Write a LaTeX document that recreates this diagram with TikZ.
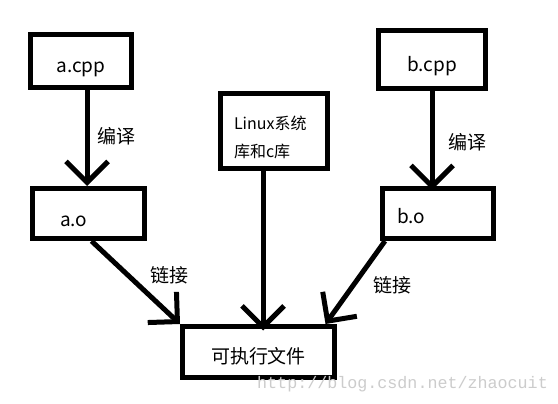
\documentclass[tikz,border=0pt]{standalone}
\usepackage{fontspec}
\setmainfont{Noto Sans CJK SC}
\newfontfamily\wmfont{Liberation Mono}
\usetikzlibrary{arrows.meta}
\begin{document}
\begin{tikzpicture}[x=1pt,y=-1pt,
  box/.style={draw=black, line width=5pt, inner sep=0pt, text depth=0pt, font=\fontsize{19}{22}\selectfont},
  conn/.style={line width=5pt, -{Straight Barb[length=21pt,width=42pt]}},
  lbl/.style={inner sep=0pt, font=\fontsize{19}{22}\selectfont},
  wm/.style={inner sep=0pt, anchor=west, text=black!20, font=\wmfont\fontsize{16.7}{18}\selectfont}]
\useasboundingbox[fill=white] (0,0) rectangle (558,404);
\node[box, minimum width=101pt, minimum height=53pt, text height=24pt] (acpp) at (81,61) {a.cpp};
\node[box, minimum width=112pt, minimum height=50pt, text height=25pt, text width=57pt, align=left, inner xsep=27.5pt] (ao) at (88.5,213.5) {a.o};
\node[box, minimum width=107pt, minimum height=75pt, text width=80pt, align=left, inner xsep=13.5pt, font=\fontsize{16}{28}\selectfont, text height=12pt, text depth=14pt] (lib) at (274,131) {Linux系统\\库和c库};
\node[box, minimum width=107pt, minimum height=58pt, text height=24pt] (bcpp) at (432,59.5) {b.cpp};
\node[box, minimum width=111pt, minimum height=50pt, text height=21pt, text width=82pt, align=left, inner xsep=14.5pt] (bo) at (438,213.5) {b.o};
\node[box, minimum width=152pt, minimum height=51pt, text height=22pt] (exe) at (258.5,352) {可执行文件};
\draw[conn] ([xshift=6pt]acpp.south) -- ([xshift=6pt]acpp.south |- ao.north);
\draw[conn] (bcpp.south) -- ([yshift=-4pt]bcpp.south |- bo.north);
\draw[conn] ([xshift=-11pt]lib.south) -- ([xshift=-11pt,yshift=-6.5pt]lib.south |- exe.north);
\draw[conn] ([xshift=3pt]ao.south) -- (exe.north west);
\draw[conn] ([xshift=5pt]bo.south west) -- ([xshift=-11.5pt]exe.north east);
\node[lbl] (l1) at (116,136.5) {编译};
\node[lbl] (l2) at (467,142.5) {编译};
\node[lbl] (l3) at (169,275) {链接};
\node[lbl] (l4) at (392,285.5) {链接};
\node[wm] (wm) at (257,384) {http://blog.csdn.net/zhaocuit};
\end{tikzpicture}
\end{document}
